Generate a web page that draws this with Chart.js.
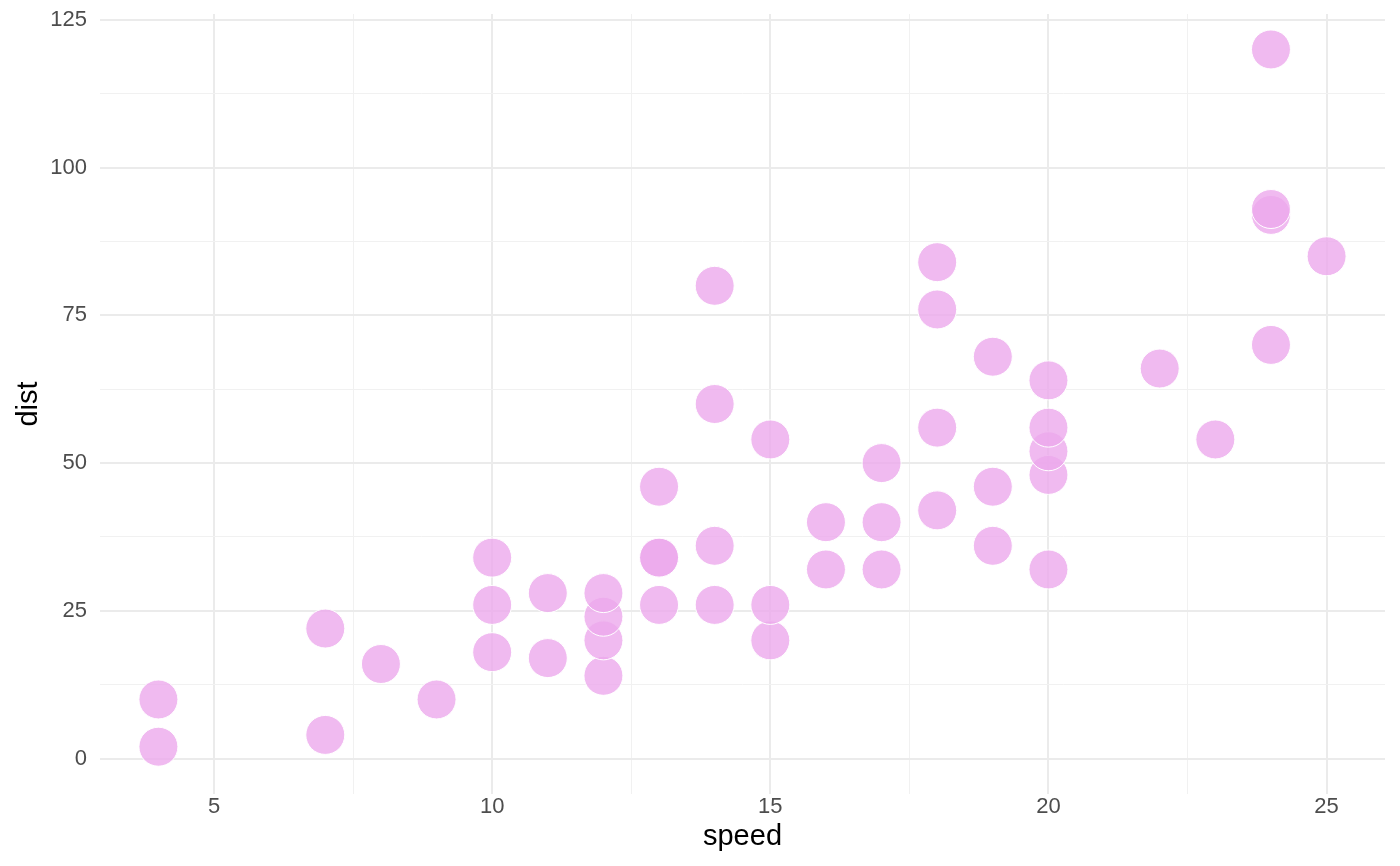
<!DOCTYPE html>
<html>
<head>
<meta charset="utf-8">
<script src="https://cdn.jsdelivr.net/npm/chart.js@4.4.0/dist/chart.umd.min.js"></script>
<style>
html,body{margin:0;padding:0;background:#fff;}
#wrap{width:1400px;height:866px;position:relative;}
</style>
</head>
<body>
<div id="wrap"><canvas id="c" width="1400" height="866"></canvas></div>
<script>
const speed = [4,4,7,7,8,9,10,10,10,11,11,12,12,12,12,13,13,13,13,14,14,14,14,15,15,15,16,16,17,17,17,18,18,18,18,19,19,19,20,20,20,20,20,22,23,24,24,24,24,25];
const dist  = [2,10,4,22,16,10,18,26,34,17,28,14,20,24,28,26,34,34,46,26,36,60,80,20,26,54,32,40,32,40,50,42,56,76,84,36,46,68,32,48,52,56,64,66,54,70,92,93,120,85];
const xTicks = [5,7.5,10,12.5,15,17.5,20,22.5,25];
const yTicks = [0,12.5,25,37.5,50,62.5,75,87.5,100,112.5,125];
const xTitle = 'speed';
const yTitle = 'dist';

const points = speed.map((s,i)=>({x:s,y:dist[i]}));
const FONT = 'Liberation Sans, Arial, sans-serif';
function zeroPad(s){ s.paddingTop = 0; s.paddingBottom = 0; s.paddingLeft = 0; s.paddingRight = 0; }

new Chart(document.getElementById('c'), {
  type: 'scatter',
  data: { datasets: [{
    data: points,
    backgroundColor: 'rgba(236,169,236,0.8)',
    borderColor: '#ffffff',
    borderWidth: 1,
    pointRadius: 19.5,
    pointHoverRadius: 19.5,
    clip: false
  }]},
  options: {
    responsive: false,
    animation: false,
    devicePixelRatio: 1,
    layout: { autoPadding: false, padding: { top: 14, right: 15, left: 0, bottom: 0 } },
    plugins: { legend: { display: false }, tooltip: { enabled: false } },
    scales: {
      x: {
        type: 'linear', min: 2.95, max: 26.05,
        afterBuildTicks: s => { s.ticks = xTicks.map(v=>({value:v})); },
        afterFit: s => { s.height = 72; zeroPad(s); },
        border: { display: false },
        grid: {
          drawTicks: false,
          color: c => (c.tick && c.tick.value % 5 === 0) ? '#EBEBEB' : '#F1F1F1',
          lineWidth: c => (c.tick && c.tick.value % 5 === 0) ? 2 : 1
        },
        ticks: {
          padding: 0,
          maxRotation: 0,
          color: '#4D4D4D',
          font: { family: FONT, size: 22 },
          callback: v => (v % 5 === 0) ? String(v) : ''
        },
        title: { display: true, text: xTitle, color: '#000', padding: { top: 12, bottom: 12 },
          font: { family: FONT, size: 29 } }
      },
      y: {
        type: 'linear', min: -6, max: 126,
        afterBuildTicks: s => { s.ticks = yTicks.map(v=>({value:v})); },
        afterFit: s => { s.width = 100; zeroPad(s); },
        border: { display: false },
        grid: {
          drawTicks: false,
          color: c => (c.tick && c.tick.value % 25 === 0) ? '#EBEBEB' : '#F1F1F1',
          lineWidth: c => (c.tick && c.tick.value % 25 === 0) ? 2 : 1
        },
        ticks: {
          padding: 13,
          color: '#4D4D4D',
          font: { family: FONT, size: 22 },
          callback: v => (v % 25 === 0) ? String(v) : ''
        },
        title: { display: true, text: yTitle, color: '#000', padding: { top: 12, bottom: 12 },
          font: { family: FONT, size: 29 } }
      }
    }
  }
});
</script>
</body>
</html>
